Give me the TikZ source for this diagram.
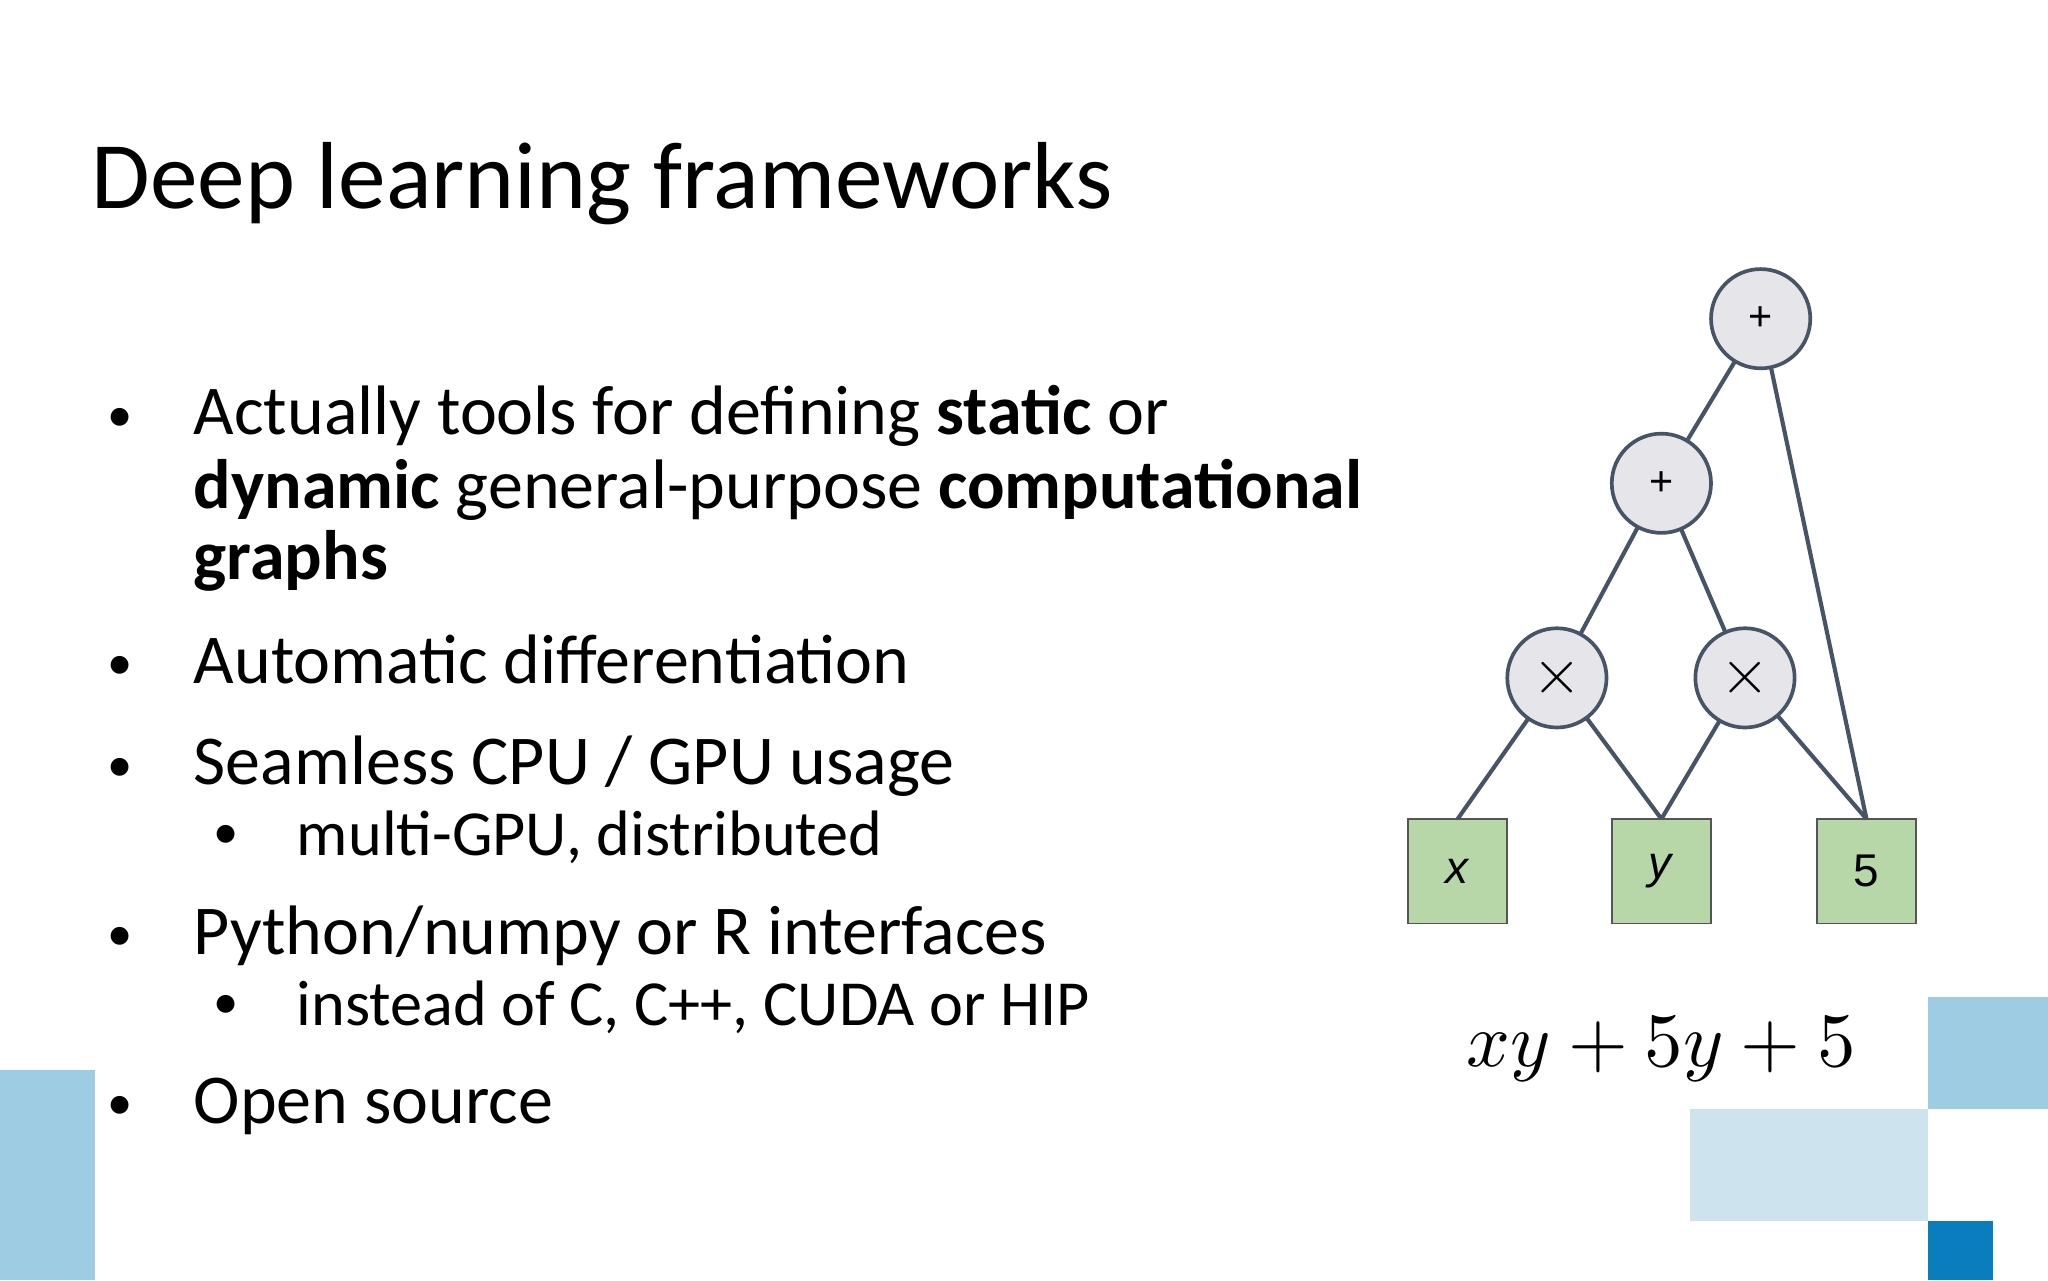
\documentclass[tikz,border=0pt]{standalone}
\usepackage{fontspec}
\setmainfont{Carlito}
\setsansfont{Liberation Sans}
\begin{document}
\begin{tikzpicture}[x=0.02cm,y=-0.02cm,
  txt/.style={anchor=base west,inner sep=0pt,font=\fontsize{30.5}{36}\selectfont},
  sub/.style={anchor=base west,inner sep=0pt,font=\fontsize{28}{30}\selectfont},
  bul/.style={anchor=base west,inner sep=0pt,font=\fontsize{22}{24}\selectfont},
  op/.style={circle,draw=edgec,line width=1.6pt,fill=opfill,minimum size=1.52cm,inner sep=0pt,font=\sffamily\fontsize{18}{20}\selectfont},
  leaf/.style={rectangle,draw=leafb,line width=0.8pt,fill=leaffill,minimum width=1.52cm,minimum height=1.6cm,inner sep=0pt,font=\sffamily\fontsize{20}{24}\selectfont},
  edge/.style={draw=edgec,line width=1.8pt}]
\definecolor{edgec}{HTML}{475366}
\definecolor{opfill}{HTML}{E5E5EA}
\definecolor{leaffill}{HTML}{B7D7A8}
\definecolor{leafb}{HTML}{555555}
\definecolor{blueA}{HTML}{9ECDE3}
\definecolor{blueB}{HTML}{CDE4EF}
\definecolor{blueC}{HTML}{0A7DBE}
\useasboundingbox (0,0) rectangle (1568,980);
\fill[white] (0,0) rectangle (1568,980);
% decorations
\fill[blueA] (0,819) rectangle (73,980);
\fill[blueA] (1476,763) rectangle (1568,849);
\fill[blueB] (1294,849) rectangle (1476,935);
\fill[blueC] (1476,935) rectangle (1526,980);
% title
\node[anchor=base west,inner sep=0pt,font=\fontsize{41.5}{48}\selectfont] (title) at (70,160) {Deep learning frameworks};
% bullets
\foreach \y [count=\i] in {330,520,598,728,857}{\node[bul] (b\i) at (82,\y) {•};}
\foreach \y [count=\i] in {650,780}{\node[bul] (s\i) at (163,\y) {•};}
\node[txt] (l1) at (148,333) {Actually tools for defining \textbf{static} or};
\node[txt] (l2) at (148,389) {\textbf{dynamic} general-purpose \textbf{computational}};
\node[txt] (l3) at (148,444) {\textbf{graphs}};
\node[txt] (l4) at (148,523) {Automatic differentiation};
\node[txt] (l5) at (148,601) {Seamless CPU / GPU usage};
\node[sub] (l6) at (227,655) {multi-GPU, distributed};
\node[txt] (l7) at (148,731) {Python/numpy or R interfaces};
\node[sub] (l8) at (227,785) {instead of C, C++, CUDA or HIP};
\node[txt] (l9) at (148,860) {Open source};
% graph
\node[leaf] (x) at (1116,667) {\textit{x}};
\node[leaf] (y) at (1272,667) {\textit{y}};
\node[leaf] (f) at (1429,667) {5};
\coordinate (xt) at (1116,627);
\coordinate (yt) at (1272,627);
\coordinate (ft) at (1429,627);
\draw[edge] (1192,519) -- (xt);
\draw[edge] (1192,519) -- (yt);
\draw[edge] (1336,519) -- (yt);
\draw[edge] (1336,519) -- (ft);
\draw[edge] (1348,244) -- (ft);
\draw[edge] (1348,244) -- (1272,370);
\draw[edge] (1272,370) -- (1192,519);
\draw[edge] (1272,370) -- (1336,519);
\node[op] (p1) at (1348,244) {+};
\node[op] (p2) at (1272,370) {+};
\node[op] (m1) at (1192,519) {\scalebox{1.6}{$\times$}};
\node[op] (m2) at (1336,519) {\scalebox{1.6}{$\times$}};
\node[inner sep=0pt] (eq) at (1272,803) {\scalebox{3.35}{$xy+5y+5$}};
\end{tikzpicture}
\end{document}
